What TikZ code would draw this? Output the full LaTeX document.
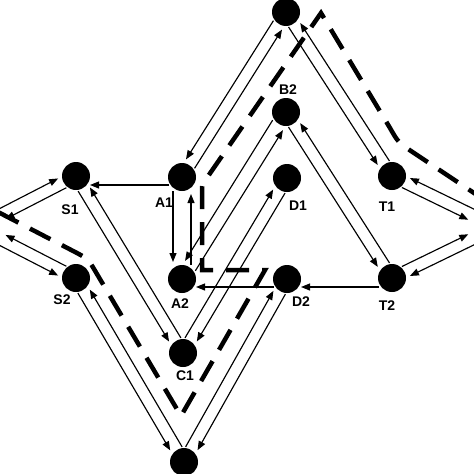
\documentclass[tikz,border=0pt]{standalone}
\usepackage{fontspec}
\setmainfont{Liberation Sans}
\usetikzlibrary{calc,arrows.meta}
\newcommand\pairR[5]{%
 \draw[link,shorten <={#4},shorten >={#5+3pt}] ($(#1.center)!#3!-90:(#2.center)$) -- ($(#2.center)!#3!90:(#1.center)$);
 \draw[link,shorten <={#5},shorten >={#4+3pt}] ($(#2.center)!#3!-90:(#1.center)$) -- ($(#1.center)!#3!90:(#2.center)$);}
\newcommand\pairL[5]{%
 \draw[link,shorten <={#4},shorten >={#5+3pt}] ($(#1.center)!#3!90:(#2.center)$) -- ($(#2.center)!#3!-90:(#1.center)$);
 \draw[link,shorten <={#5},shorten >={#4+3pt}] ($(#2.center)!#3!90:(#1.center)$) -- ($(#1.center)!#3!-90:(#2.center)$);}
\begin{document}
\begin{tikzpicture}[x=1pt,y=-1pt,
  dot/.style={circle,fill=black,minimum size=28pt,inner sep=0pt},
  lab/.style={font=\bfseries\fontsize{14}{14}\selectfont,inner sep=0pt},
  link/.style={line width=1.15pt,-{Triangle[length=9pt,width=7pt]}},
  single/.style={link,shorten <=13pt,shorten >=14pt},
  route/.style={line width=4.5pt,dash pattern=on 23pt off 13pt}]
\useasboundingbox (0,0) rectangle (474,474);
\clip (0,0) rectangle (474,474);
% nodes
\coordinate (L) at (-23,227);
\coordinate (R) at (497,227);
\node[dot] (S1) at (76,176) {};
\node[dot] (A1) at (182,177) {};
\node[dot] (D1) at (287,178) {};
\node[dot] (T1) at (392,176) {};
\node[dot] (S2) at (76,278) {};
\node[dot] (A2) at (182,279) {};
\node[dot] (D2) at (287,279) {};
\node[dot] (T2) at (392,278) {};
\node[dot] (Top) at (286,12) {};
\node[dot] (B2) at (286,112) {};
\node[dot] (C1) at (183,353) {};
\node[dot] (Bot) at (184,462) {};
% labels
\node[lab] (lS1) at (70,210) {S1};
\node[lab] (lS2) at (62,300) {S2};
\node[lab] (lA1) at (164,203) {A1};
\node[lab] (lA2) at (180,304) {A2};
\node[lab] (lB2) at (288,90) {B2};
\node[lab] (lD1) at (298,206) {D1};
\node[lab] (lD2) at (301,302) {D2};
\node[lab] (lT1) at (387,207) {T1};
\node[lab] (lT2) at (387,306) {T2};
\node[lab] (lC1) at (185,376) {C1};
% links
\pairL{L}{S1}{6pt}{26pt}{14pt}
\pairR{L}{S2}{6pt}{26pt}{14pt}
\pairR{S1}{C1}{6pt}{14pt}{14pt}
\pairR{S2}{Bot}{6pt}{14pt}{14pt}
\pairR{A1}{A2}{9pt}{14pt}{14pt}
\pairR{Top}{A1}{6pt}{14pt}{14pt}
\pairR{B2}{A2}{7pt}{14pt}{14pt}
\pairR{B2}{T2}{6pt}{14pt}{14pt}
\pairR{Top}{T1}{6pt}{14pt}{14pt}
\pairR{T1}{R}{6pt}{14pt}{26pt}
\pairL{T2}{R}{6pt}{14pt}{26pt}
\pairL{D1}{C1}{6pt}{14pt}{14pt}
\pairL{D2}{Bot}{6pt}{14pt}{14pt}
\draw[single] ($(A1.center)+(0,8)$) -- ($(S1.center)+(0,9)$);
\draw[single] ($(D2.center)+(0,8)$) -- ($(A2.center)+(0,8)$);
\draw[single] ($(T2.center)+(0,9)$) -- ($(D2.center)+(0,8)$);
% route
\draw[route] (-2,212) -- (77,253) .. controls (88,259) .. (94,269) -- (181,416) -- (265,270) -- (202,270) -- (202,191) .. controls (202,185) .. (205.4,180) -- (321,13) -- (390,128) .. controls (398,142) .. (411,151) -- (480,197);
\end{tikzpicture}
\end{document}
